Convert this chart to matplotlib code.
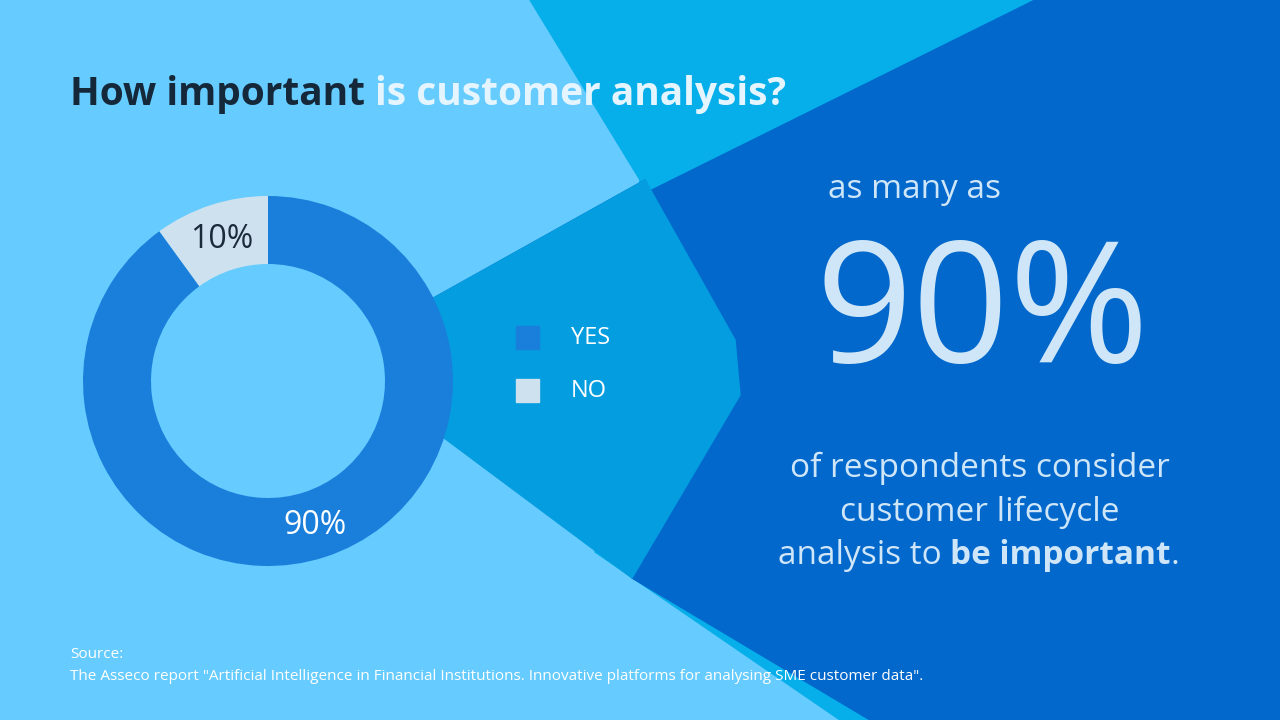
import matplotlib
matplotlib.use("Agg")
import matplotlib.pyplot as plt
from matplotlib.patches import Polygon, Rectangle

plt.rcParams['font.family'] = ['Open Sans', 'DejaVu Sans']

# data
labels = ['YES', 'NO']
shares = [90, 10]
colors = ['#1a7fdb', '#cde2ee']

W, H = 1280, 720


def P(pts):
    # pixel coords (y down) -> data coords (y up)
    return [(x, H - y) for x, y in pts]


fig = plt.figure(figsize=(12.8, 7.2), dpi=100)
ax = fig.add_axes([0, 0, 1, 1])

ax.add_patch(Rectangle((0, 0), W, H, color='#66cbfe', zorder=0))
ax.add_patch(Polygon(P([(530, 0), (1280, 0), (1280, 720), (840, 720), (595, 552), (640, 180)]),
                     color='#06aeea', zorder=1))
ax.add_patch(Polygon(P([(1035, 0), (1280, 0), (1280, 720), (870, 720), (632, 578), (740, 390),
                        (645, 180), (430, 300)]), color='#0268cc', zorder=2))
ax.add_patch(Polygon(P([(430, 300), (645, 180), (735, 340), (740, 395), (632, 578), (420, 420)]),
                     color='#049de0', zorder=3))

# donut
cx, cy, r = 268, H - 381, 185
ax.pie([shares[1], shares[0]], colors=[colors[1], colors[0]], startangle=90, counterclock=True,
       radius=r, center=(cx, cy), wedgeprops=dict(width=r - 117, linewidth=0), frame=True)
ax.set_xlim(0, W)
ax.set_ylim(0, H)
ax.axis('off')
for p in ax.patches[-2:]:
    p.set_zorder(4)

ax.text(222, H - 240, f'{shares[1]}%', fontsize=23, color='#1a2b3c', ha='center', va='center', zorder=5)
ax.text(315, H - 525, f'{shares[0]}%', fontsize=23, color='white', ha='center', va='center', zorder=5)

# legend
for i, (lab, c) in enumerate(zip(labels, colors)):
    y = H - (338 + 53 * i)
    ax.add_patch(Rectangle((516, y - 11), 23, 23, color=c, zorder=5))
    ax.text(571, y, lab, fontsize=17, color='white', va='center', zorder=5)

# title
t = ax.text(70, H - 95, 'How important ', fontsize=28, fontweight='bold', color='#15283a', va='center')
fig.canvas.draw()
bb = t.get_window_extent()
ax.text(bb.x1, H - 95, 'is customer analysis?', fontsize=28, fontweight='bold', color='#e4f5ff', va='center')

tc = '#cfe6f8'
ax.text(915, H - 190, 'as many as', fontsize=24, color=tc, ha='center', va='center', zorder=6)
ax.text(983, H - 318, '90%', fontsize=122, fontweight='medium', color=tc, ha='center', va='center', zorder=6)
ax.text(980, H - 468, 'of respondents consider', fontsize=24, color=tc, ha='center', va='center', zorder=6)
ax.text(980, H - 512, 'customer lifecycle', fontsize=24, color=tc, ha='center', va='center', zorder=6)
a = ax.text(778, H - 556, 'analysis to ', fontsize=24, color=tc, va='center', zorder=6)
fig.canvas.draw()
x1 = a.get_window_extent().x1
b = ax.text(x1, H - 556, 'be important', fontsize=24, color=tc, fontweight='bold', va='center', zorder=6)
fig.canvas.draw()
ax.text(b.get_window_extent().x1, H - 556, '.', fontsize=24, color=tc, va='center', zorder=6)

ax.text(70, H - 654, 'Source:', fontsize=11, color='white', va='center')
ax.text(70, H - 677, 'The Asseco report "Artificial Intelligence in Financial Institutions. Innovative platforms '
        'for analysing SME customer data".', fontsize=11, color='white', va='center')

fig.savefig('out.png', dpi=100)
